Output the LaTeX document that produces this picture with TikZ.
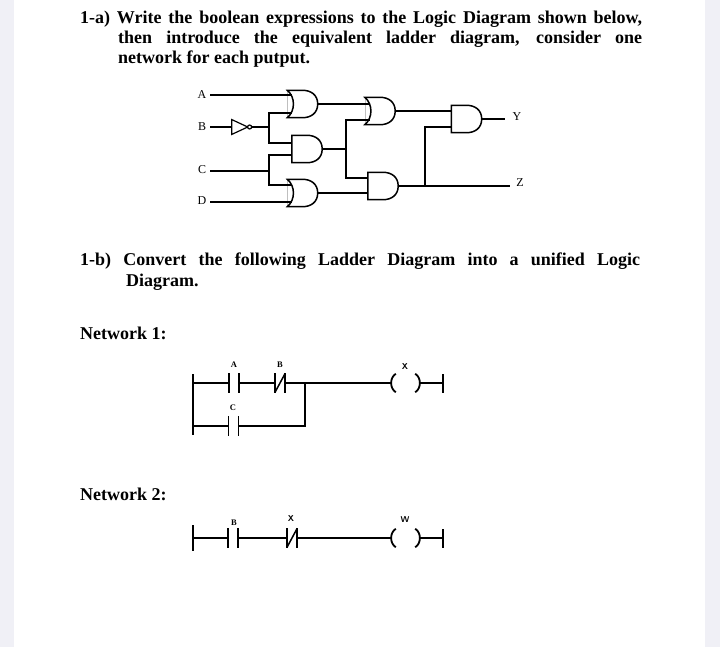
\documentclass[tikz,border=0pt]{standalone}
\usepackage{fontspec}
\setmainfont{Liberation Serif}
\usetikzlibrary{shapes.gates.logic.US}
\definecolor{pagemargin}{rgb}{.94,.94,.965}
\tikzset{
	gatebox/.style = {minimum width = 30pt, minimum height = 27pt, inner sep = 0pt},
	heading/.style = {anchor = north west, inner sep = 0pt, font = \fontsize{18}{20.3}\selectfont\bfseries, align = justify},
	wire/.style = {line width = 1.5pt},
	contact/.style = {minimum width = 10pt, minimum height = 19pt, inner sep = 0pt},
	coil/.style = {minimum width = 26pt, minimum height = 18pt, inner sep = 0pt},
	siglabel/.style = {font = \fontsize{12}{12}\selectfont, inner sep = 0pt},
	ladlabel/.style = {font = \fontsize{8.5}{8.5}\selectfont\bfseries, inner sep = 0pt},
	outlabel/.style = {font = \fontsize{8.5}{8.5}\selectfont\sffamily\bfseries, inner sep = 0pt}
}
\begin{document}
\begin{tikzpicture}[x = 1pt, y = -1pt]
	\useasboundingbox (0,0) rectangle (720,647);
	\fill[pagemargin] (0,0) rectangle (720,647);
	\fill[white] (14,0) rectangle (705,647);

	% headings
	\node[heading, text width = 562pt] (h1) at (80,10.5) {\hangindent = 38pt \hangafter = 1 1-a) Write the boolean expressions to the Logic Diagram shown below,\linebreak then introduce the equivalent ladder diagram, consider one\linebreak network for each putput.\par};
	\node[heading, text width = 560pt] (h2) at (80,253) {\hangindent = 46pt \hangafter = 1 1-b) Convert the following Ladder Diagram into a unified Logic\linebreak Diagram.\par};
	\node[heading, align = left] (n1) at (80,327) {Network 1:};
	\node[heading, align = left] (n2) at (80,488) {Network 2:};

	% logic diagram
	\node[siglabel] (A) at (202,95) {A};
	\node[siglabel] (B) at (202,127) {B};
	\node[siglabel] (C) at (202,170) {C};
	\node[siglabel] (D) at (202,201) {D};
	\node[siglabel] (Y) at (517,116.5) {Y};
	\node[siglabel] (Z) at (520,183) {Z};

	\node[gatebox] (o1) at (302.5,104) {};
	\node[gatebox] (a2) at (307,149) {};
	\node[gatebox] (o3) at (302.5,193) {};
	\node[gatebox] (o4) at (380,111) {};
	\node[gatebox] (a5) at (466.5,119) {};
	\node[gatebox] (a6) at (383,186) {};
	\node[not gate US, draw, line width = 1.2pt, inner sep = 0pt, minimum height = 12pt] (inv) at (237,127) {};

	\foreach \g in {a2,a5,a6} {
		\draw[wire] (\g.north west) -- (\g.north) to[out = 0, in = 90, looseness = 1.1] (\g.east) to[out = -90, in = 0, looseness = 1.1] (\g.south) -- (\g.south west) -- cycle;
	}
	\foreach \g in {o1,o3,o4} {
		\draw[gray!50, thin] (\g.north west) -- (\g.south west);
		\draw[wire] (\g.north west) -- (\g.north) to[out = 0, in = 90, looseness = 1.1] (\g.east) to[out = -90, in = 0, looseness = 1.1] (\g.south) -- (\g.south west) to[bend right = 50] cycle;
	}

	\coordinate (jb) at (269,127);
	\coordinate (jc) at (269,171);
	\coordinate (jm) at (346,149);
	\coordinate (jz) at (425,186);
	\coordinate (Astart) at (210,95);
	\coordinate (Bstart) at (210,127);
	\coordinate (Cstart) at (210,171);
	\coordinate (Dstart) at (210,202);
	\coordinate (Yend) at (505,119);
	\coordinate (Zend) at (510,186);

	\draw[wire] (Astart) -- ([shift = {(5,-9)}]o1.west);
	\draw[wire] (Bstart) -- (inv.input);
	\draw[wire] (inv.output) -- (jb);
	\draw[wire] (jb) |- ([shift = {(5,9)}]o1.west);
	\draw[wire] (jb) |- ([yshift = 6pt]a2.west);
	\draw[wire] (Cstart) -- (jc);
	\draw[wire] (jc) |- ([yshift = -6pt]a2.west);
	\draw[wire] (jc) |- ([shift = {(5,-8)}]o3.west);
	\draw[wire] (Dstart) -- ([shift = {(5,9)}]o3.west);
	\draw[wire] (o1.east) -- ([shift = {(5,-7)}]o4.west);
	\draw[wire] (a2.east) -- (jm);
	\draw[wire] (jm) |- ([shift = {(5,9)}]o4.west);
	\draw[wire] (jm) |- ([yshift = 8pt]a6.west);
	\draw[wire] (o3.east) -- ([yshift = -7pt]a6.west);
	\draw[wire] (o4.east) -- ([yshift = 8pt]a5.west);
	\draw[wire] (a5.east) -- (Yend);
	\draw[wire] (a6.east) -- (Zend);
	\draw[wire] (jz) |- ([yshift = -8pt]a5.west);

	% network 1
	\coordinate (r1top) at (193,374);
	\coordinate (r1bot) at (193,435);
	\coordinate (r1up) at (193,383);
	\coordinate (r1low) at (193,426);
	\coordinate (r1join) at (305,383);
	\coordinate (e1top) at (443,374);
	\coordinate (e1bot) at (443,393);
	\coordinate (e1mid) at (443,383);
	\node[contact] (ca) at (234,383) {};
	\node[contact] (cb) at (280,383) {};
	\node[contact] (cc) at (233.5,426) {};
	\node[coil] (x1) at (405.5,383) {};
	\node[ladlabel] (la) at (234,365) {A};
	\node[ladlabel] (lb) at (280,365) {B};
	\node[ladlabel] (lc) at (233,408) {C};
	\node[outlabel] (lx) at (405,367) {X};

	\draw[wire] (r1top) -- (r1bot);
	\draw[wire] (e1top) -- (e1bot);
	\draw[wire] (r1up) -- (ca.west);
	\draw[wire] (ca.east) -- (cb.west);
	\draw[wire] (cb.east) -- (x1.west);
	\draw[wire] (r1low) -- (cc.west);
	\draw[wire] (cc.east) -| (r1join);
	\draw[wire] (x1.east) -- (e1mid);

	% network 2
	\coordinate (r2top) at (193,525);
	\coordinate (r2bot) at (193,551);
	\coordinate (r2mid) at (193,538);
	\coordinate (e2top) at (443,529);
	\coordinate (e2bot) at (443,548);
	\coordinate (e2mid) at (443,538);
	\node[contact] (cd) at (233,538) {};
	\node[contact] (ce) at (292,538) {};
	\node[coil] (w1) at (405.5,538) {};
	\node[ladlabel] (ld) at (234,523) {B};
	\node[outlabel] (le) at (291,519) {X};
	\node[outlabel] (lw) at (405,520) {W};

	\draw[wire] (r2top) -- (r2bot);
	\draw[wire] (e2top) -- (e2bot);
	\draw[wire] (r2mid) -- (cd.west);
	\draw[wire] (cd.east) -- (ce.west);
	\draw[wire] (ce.east) -- (w1.west);
	\draw[wire] (w1.east) -- (e2mid);

	% contact plates and coil brackets
	\foreach \c in {ca,cb,cc,cd,ce} {
		\draw[wire] (\c.north west) -- (\c.south west);
		\draw[wire] (\c.north east) -- (\c.south east);
	}
	\foreach \c in {cb,ce} {
		\draw[wire] (\c.south west) -- (\c.north east);
	}
	\foreach \c in {x1,w1} {
		\draw[wire, line width = 1.8pt] ([xshift = 3.5pt]\c.north west) to[bend right = 60] ([xshift = 3.5pt]\c.south west);
		\draw[wire, line width = 1.8pt] ([xshift = -3.5pt]\c.north east) to[bend left = 60] ([xshift = -3.5pt]\c.south east);
	}
\end{tikzpicture}
\end{document}
